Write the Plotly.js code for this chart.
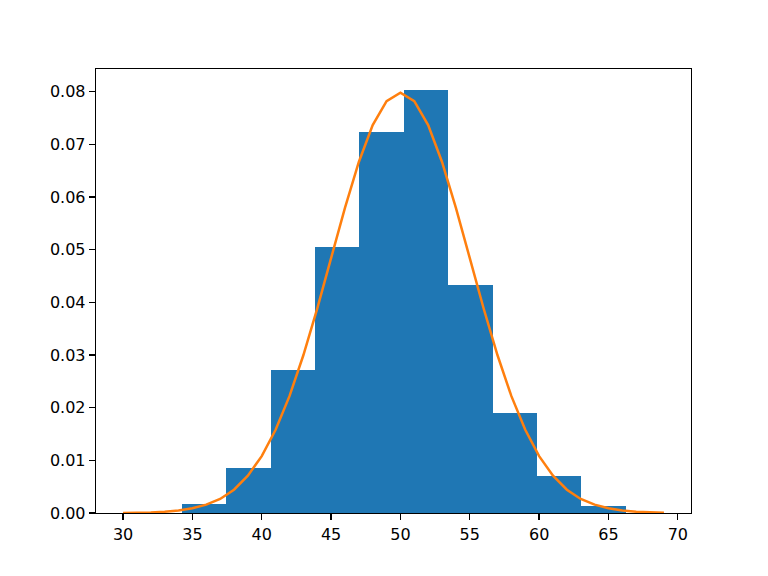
<!DOCTYPE html>
<html>
<head>
<meta charset="utf-8">
<script src="https://cdn.plot.ly/plotly-3.0.1.min.js"></script>
<style>html,body{margin:0;padding:0;background:#fff;}#chart{width:768px;height:576px;}</style>
</head>
<body>
<div id="chart"></div>
<script>
// Histogram bin edges and density heights
const binEdges = [34.24, 37.44, 40.64, 43.84, 47.04, 50.24, 53.44, 56.64, 59.84, 63.04, 66.24];
const densities = [0.0017, 0.0086, 0.0271, 0.0505, 0.0724, 0.0803, 0.0433, 0.0190, 0.0071, 0.0014];

// Orange curve sample points
const curveX = [30,31,32,33,34,35,36,37,38,39,40,41,42,43,44,45,46,47,48,49,50,
                51,52,53,54,55,56,57,58,59,60,61,62,63,64,65,66,67,68,69];
const curveY = [0.00001,0.00003,0.00010,0.00024,0.00048,0.00089,0.00158,0.00267,0.00443,0.00709,
                0.01080,0.01580,0.02218,0.02995,0.03882,0.04839,0.05794,0.06664,0.07365,0.07821,
                0.07979,0.07821,0.07365,0.06664,0.05794,0.04839,0.03882,0.02995,0.02218,0.01580,
                0.01080,0.00709,0.00443,0.00267,0.00158,0.00089,0.00048,0.00024,0.00010,0.00003];

const xTicks = [30,35,40,45,50,55,60,65,70];
const yTicks = [0,0.01,0.02,0.03,0.04,0.05,0.06,0.07,0.08];

const centers = densities.map((_, i) => (binEdges[i] + binEdges[i+1]) / 2);
const widths = densities.map((_, i) => binEdges[i+1] - binEdges[i]);

const traces = [
  {type:'bar', x:centers, y:densities, width:widths,
   marker:{color:'#1f77b4', line:{width:0}}, hoverinfo:'x+y', showlegend:false},
  {type:'scatter', mode:'lines', x:curveX, y:curveY,
   line:{color:'#ff7f0e', width:2.5}, showlegend:false}
];

const axisCommon = {
  showgrid:false, zeroline:false, showline:true, mirror:true,
  linecolor:'#000', linewidth:1.3,
  ticks:'outside', ticklen:6, tickwidth:1.3, tickcolor:'#000',
  tickfont:{family:'DejaVu Sans', size:16, color:'#000'}
};

const layout = {
  width:768, height:576,
  margin:{l:96, r:77, t:69, b:63},
  paper_bgcolor:'#fff', plot_bgcolor:'#fff',
  bargap:0,
  xaxis:Object.assign({}, axisCommon, {range:[28.05, 70.95], tickvals:xTicks, ticktext:xTicks.map(String)}),
  yaxis:Object.assign({}, axisCommon, {range:[0, 0.0843], tickvals:yTicks, ticktext:yTicks.map(v => v.toFixed(2))}),
  font:{family:'DejaVu Sans', color:'#000'}
};

Plotly.newPlot('chart', traces, layout, {staticPlot:true, displayModeBar:false});
</script>
</body>
</html>
